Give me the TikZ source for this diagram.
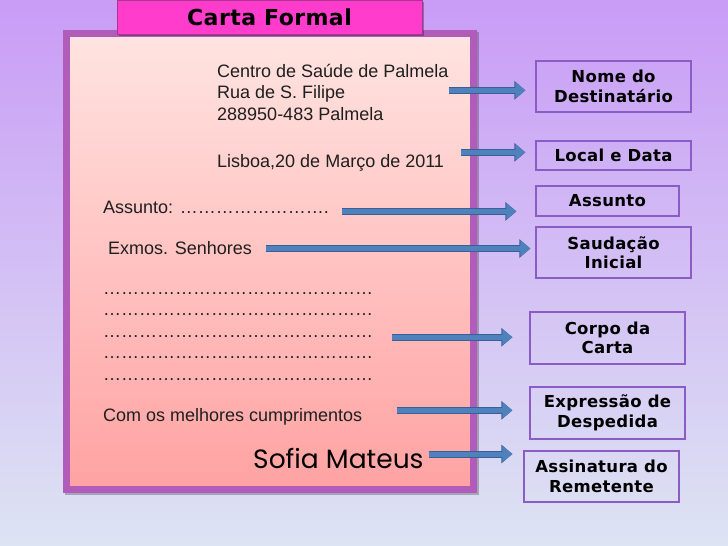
\documentclass[tikz,border=0pt]{standalone}
\usepackage{fontspec}
\setmainfont{Liberation Sans}
\newfontfamily\rotfont{DejaVu Sans}[LetterSpace=2]
\newfontfamily\assinfont{Poppins}
\usepackage{tikz}
\usetikzlibrary{arrows.meta}
\definecolor{fundoTopo}{HTML}{C99CF6}
\definecolor{fundoMeio}{HTML}{C6BDF0}
\definecolor{fundoBase}{HTML}{DDE4F3}
\definecolor{folhaTopo}{HTML}{FFE4E1}
\definecolor{folhaBase}{HTML}{FFA2A2}
\definecolor{folhaBorda}{HTML}{B05CB8}
\definecolor{tituloCor}{HTML}{FF3CCB}
\definecolor{tituloBorda}{HTML}{A8388F}
\definecolor{caixaBorda}{HTML}{8C5CC6}
\definecolor{setaCor}{HTML}{4F81BD}
\definecolor{setaBorda}{HTML}{3A5F96}
\tikzstyle{texto} = [anchor=base west, inner sep=0pt, text=black!88, font=\fontsize{18}{21.5}\selectfont]
\tikzstyle{assin} = [anchor=base west, inner sep=0pt, text=black, font=\assinfont\fontsize{26.5}{30}\selectfont]
\tikzstyle{titulo} = [rectangle, fill=tituloCor, draw=tituloBorda, line width=0.8pt, minimum width=305pt, minimum height=34pt, inner sep=0pt, font=\rotfont\bfseries\fontsize{22}{26}\selectfont]
\tikzstyle{caixa} = [rectangle, draw=caixaBorda, line width=1.2pt, align=center, inner sep=0pt, minimum width=155pt, minimum height=51pt, font=\rotfont\bfseries\fontsize{16.5}{19.5}\selectfont]
\tikzstyle{seta} = [line width=5pt, draw=setaCor, -{Triangle[length=10pt,width=15pt]}, preaction={draw=setaBorda, line width=7pt, -{Triangle[length=11pt,width=18pt]}}]
\newcommand{\reticencias}[1]{\foreach \k in {1,...,#1}{…}}

\begin{document}
\begin{tikzpicture}[x=1pt,y=-1pt]
\useasboundingbox (0,0) rectangle (728,546);
\shade[top color=fundoTopo, middle color=fundoMeio, bottom color=fundoBase] (0,0) rectangle (728,546);

% folha da carta
\fill[black,opacity=.25] (65,32) rectangle (479,495);
\shade[top color=folhaTopo, bottom color=folhaBase, draw=folhaBorda, line width=7pt] (66.5,33.5) rectangle (473.5,489.5);
\fill[black,opacity=.3] (119,2) rectangle (424,36);
\node (titulo) [titulo] at (269.5,17) {Carta Formal};

\node (tDest) [texto, anchor=north west, align=left] at (217,62) {\strut Centro de Saúde de Palmela\\Rua de S. Filipe\\288950-483 Palmela};
\node (tData) [texto] at (217,167) {Lisboa,20 de Março de 2011};
\node (tAssunto) [texto] at (103,213) {Assunto: \reticencias{8}.};
\node (tSauda) [texto] at (108,254) {Exmos. Senhores};
\node (tCorpo) [texto, anchor=north west, align=left] at (103,279) {\strut\reticencias{15}\\\strut\reticencias{15}\\\strut\reticencias{15}\\\strut\reticencias{15}\\\strut\reticencias{15}};
\node (tDespede) [texto] at (103,421) {Com os melhores cumprimentos};
\node (tAssina) [assin] at (253,468) {Sofia Mateus};

% caixas da direita
\node (cNome) [caixa] at (613.5,86.5) {Nome do\\Destinatário};
\node (cLocal) [caixa, minimum height=29pt] at (613.5,155.5) {Local e Data};
\node (cAssunto) [caixa, minimum width=143pt, minimum height=30pt] at (607.5,201) {Assunto};
\node (cSauda) [caixa] at (613.5,252.5) {Saudação\\Inicial};
\node (cCorpo) [caixa, minimum height=52pt] at (607.5,338) {Corpo da\\Carta};
\node (cDespede) [caixa, minimum height=52pt] at (607.5,413) {Expressão de\\Despedida};
\node (cAssina) [caixa] at (601.5,476.5) {Assinatura do\\Remetente};

\coordinate (sDest) at ([yshift=1pt]tDest.east);
\coordinate (sData) at ([yshift=10pt]tData.east);
\coordinate (sAssunto) at ([yshift=-4.5pt]tAssunto.east);
\coordinate (sSauda) at ([yshift=-1pt]tSauda.east);
\coordinate (sCorpo) at ([yshift=-4.3pt]tCorpo.east);
\coordinate (sDespede) at ([yshift=6pt]tDespede.east);
\coordinate (sAssina) at ([yshift=4pt]tAssina.east);

\draw [seta, shorten >=10pt] (sDest) -- (sDest -| cNome.west);
\draw [seta, shorten <=17pt, shorten >=10pt] (sData) -- (sData -| cLocal.west);
\draw [seta, shorten <=13pt, shorten >=19pt] (sAssunto) -- (sAssunto -| cAssunto.west);
\draw [seta, shorten <=14pt, shorten >=5pt] (sSauda) -- (sSauda -| cSauda.west);
\draw [seta, shorten <=19pt, shorten >=17pt] (sCorpo) -- (sCorpo -| cCorpo.west);
\draw [seta, shorten <=35pt, shorten >=17pt] (sDespede) -- (sDespede -| cDespede.west);
\draw [seta, shorten <=5pt, shorten >=11pt] (sAssina) -- (sAssina -| cAssina.west);

\end{tikzpicture}
\end{document}
